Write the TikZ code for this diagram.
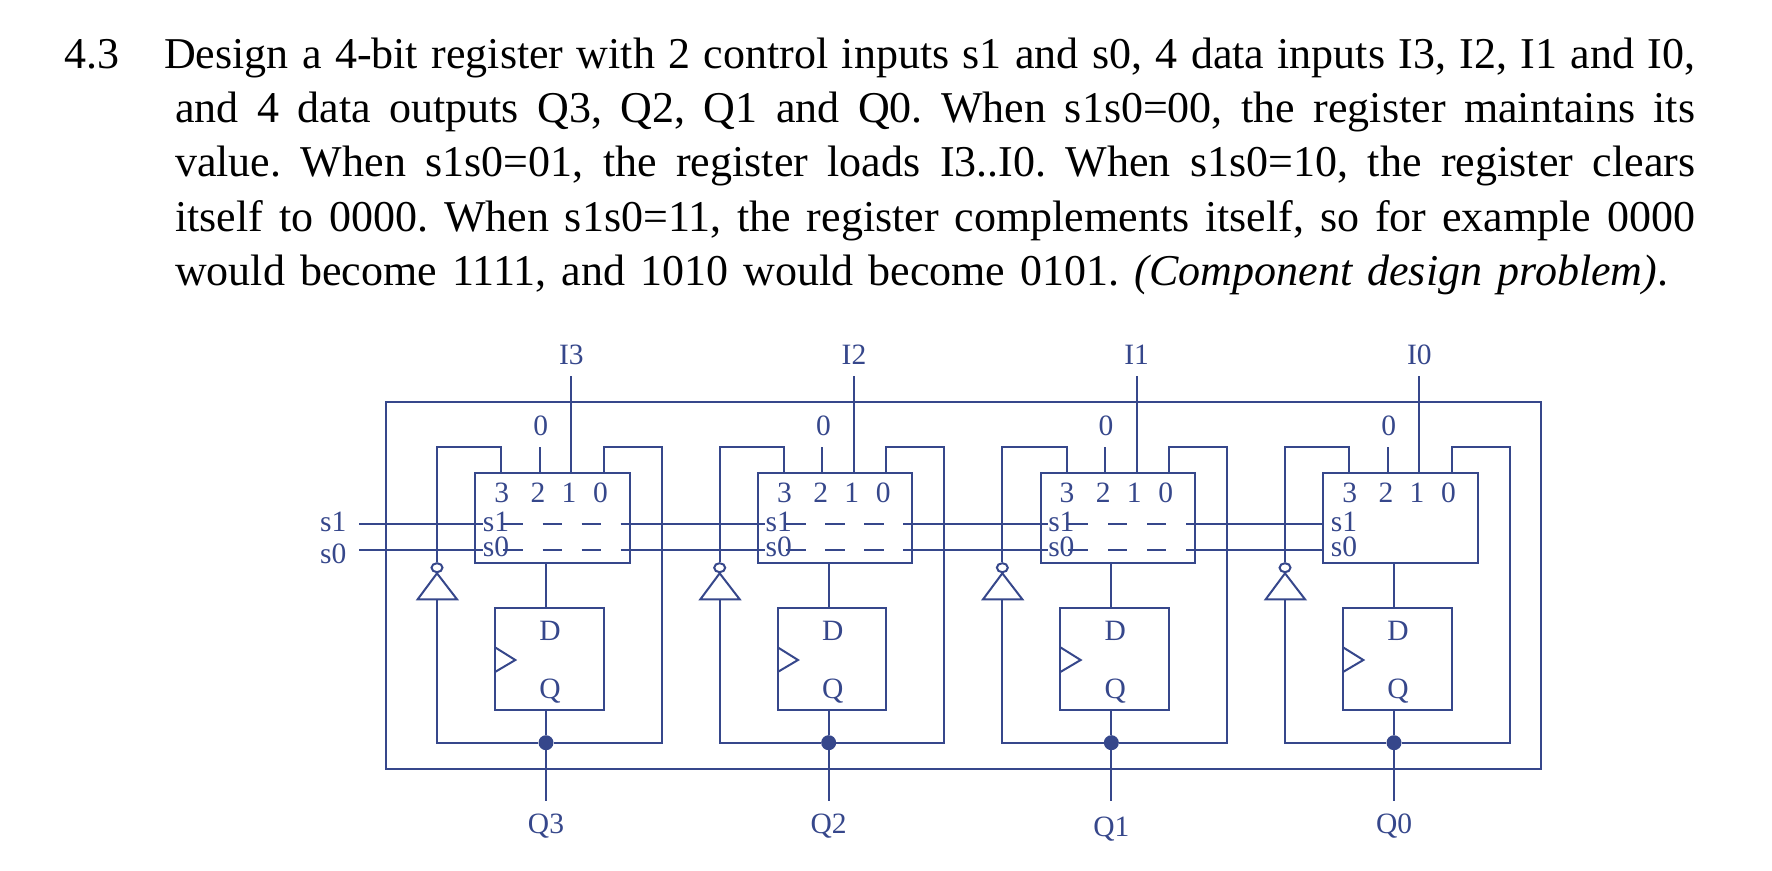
\documentclass[tikz,border=0pt]{standalone}
\usepackage{fontspec}
\setmainfont{Liberation Serif}
\usetikzlibrary{shapes.geometric}
\definecolor{ink}{HTML}{36478B}
\tikzset{
  wire/.style={draw=ink,line width=2pt,line join=miter},
  box/.style={draw=ink,line width=2pt,rectangle,inner sep=0pt},
  lab/.style={text=ink,inner sep=0pt,anchor=base,font=\fontsize{29.5}{34}\selectfont},
  para/.style={text=black,inner sep=0pt,anchor=base west,font=\fontsize{44}{48}\selectfont\frenchspacing},
  dot/.style={circle,fill=ink,inner sep=0pt,minimum size=15pt},
  bubble/.style={ellipse,draw=ink,line width=2pt,inner sep=0pt,minimum width=11pt,minimum height=9pt},
}
\begin{document}
\begin{tikzpicture}[x=1pt,y=-1pt]
\useasboundingbox (0,0) rectangle (1772,870);
% problem text
\node[para] (num) at (64,68) {4.3};
\node[para] (l1) at (164,68) {\makebox[1531pt][s]{Design a 4-bit register with 2 control inputs s1 and s0, 4 data inputs I3, I2, I1 and I0,}};
\node[para] (l2) at (175,122.5) {\makebox[1520pt][s]{and 4 data outputs Q3, Q2, Q1 and Q0. When s1s0=00, the register maintains its}};
\node[para] (l3) at (175,176.5) {\makebox[1520pt][s]{value. When s1s0=01, the register loads I3..I0. When s1s0=10, the register clears}};
\node[para] (l4) at (175,231) {\makebox[1520pt][s]{itself to 0000. When s1s0=11, the register complements itself, so for example 0000}};
\node[para] (l5) at (175,285) {\makebox[1493pt][s]{would become 1111, and 1010 would become 0101. \textit{(Component design problem)}.}};
% outer rail
\node[box,minimum width=1155.6pt,minimum height=366.7pt] (rail) at (963.5,585.35) {};
% control inputs
\node[lab,anchor=base west] (s1lab) at (320,531) {s1};
\node[lab,anchor=base west] (s0lab) at (320,563) {s0};
\coordinate (s1in) at (359,524.3);
\coordinate (s0in) at (359,550.3);
\foreach \i/\ilab/\qlab/\qy in {0/I3/Q3/833.5,1/I2/Q2/833.5,2/I1/Q1/836,3/I0/Q0/833.5}{
  \pgfmathsetmacro{\xo}{\i*282.67}
  \begin{scope}[xshift=\xo pt]
    \node[box,minimum width=154.4pt,minimum height=90pt] (mux\i) at (552.5,518.3) {};
    \node[box,minimum width=108.7pt,minimum height=102.3pt] (ff\i) at (549.35,659.15) {};
    \node[dot] (dot\i) at (546,742.7) {};
    \node[bubble] (bub\i) at (437,567.7) {};
    \coordinate (ia\i) at (437,573.3);
    \coordinate (ib\i) at (437,599.3);
    % pin labels
    \node[lab] (p3\i) at (501.7,502) {3};
    \node[lab] (p2\i) at (538,502) {2};
    \node[lab] (p1\i) at (569,502) {1};
    \node[lab] (p0\i) at (600.5,502) {0};
    \node[lab,anchor=base west] (ms1\i) at (482.7,531) {s1};
    \node[lab,anchor=base west] (ms0\i) at (482.7,556.7) {s0};
    \node[lab] (zero\i) at (540.7,435) {0};
    \node[lab] (in\i) at (571.3,364.3) {\ilab};
    \node[lab] (d\i) at (550,640) {D};
    \node[lab] (q\i) at (550,698) {Q};
    \node[lab] (out\i) at (546,\qy) {\qlab};
    % free ends and corners
    \coordinate (itop\i) at (571.3,376);
    \coordinate (qend\i) at (546,801.3);
    \coordinate (zt\i) at (539.7,447.3);
    \coordinate (lt\i) at (437,447.3);
    \coordinate (lp\i) at (501.3,447.3);
    \coordinate (rt\i) at (661.7,447.3);
    \coordinate (rp\i) at (603.7,447.3);
    \coordinate (lb\i) at (437,742.7);
    \coordinate (rb\i) at (661.7,742.7);
    \coordinate (ck1\i) at (495,647.3);
    \coordinate (ck2\i) at (515.3,660);
    \coordinate (ck3\i) at (495,672);
    \coordinate (tl\i) at (417.7,599.3);
    \coordinate (tr\i) at (457,599.3);
  \end{scope}
  % connectors
  \draw[wire] (itop\i) -- (itop\i |- mux\i.north);
  \draw[wire] (zt\i) -- (zt\i |- mux\i.north);
  \draw[wire] (bub\i.north) -- (lt\i) -- (lp\i) -- (lp\i |- mux\i.north);
  \draw[wire] (rp\i |- mux\i.north) -- (rp\i) -- (rt\i) -- (rb\i) -- (dot\i) -- (lb\i) -- (ib\i);
  \draw[wire] (dot\i |- mux\i.south) -- (dot\i |- ff\i.north);
  \draw[wire] (dot\i |- ff\i.south) -- (dot\i) -- (qend\i);
  \draw[wire] (ia\i) -- (tr\i) -- (tl\i) -- cycle;
  \draw[wire] (ck1\i) -- (ck2\i) -- (ck3\i);
}
% control lines (dashed through the first three blocks)
\foreach \sig/\yy in {s1/524.3,s0/550.3}{
  \draw[wire] (\sig in) -- (\sig in -| m\sig0.west);
  \foreach \i in {0,1,2}{
    \pgfmathsetmacro{\xo}{\i*282.67}
    \pgfmathtruncatemacro{\nxt}{\i+1}
    \foreach \a/\b in {503/523,542.7/562,581.7/601}{
      \draw[wire] ({\a+\xo},\yy) -- ({\b+\xo},\yy);
    }
    \coordinate (ds) at ({620.7+\xo},\yy);
    \ifnum\i<2
      \draw[wire] (ds) -- (ds -| m\sig\nxt.west);
    \else
      \draw[wire] (ds) -- (ds -| mux\nxt.west);
    \fi
  }
}
\end{tikzpicture}
\end{document}
